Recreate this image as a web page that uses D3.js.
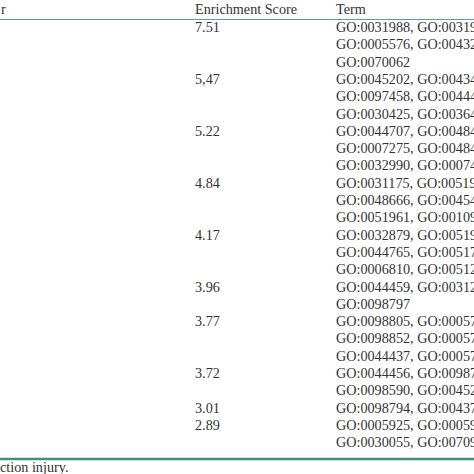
<!DOCTYPE html>
<html><head><meta charset="utf-8">
<script src="https://cdn.jsdelivr.net/npm/d3@7"></script>
<style>body{margin:0;background:#fff}</style></head>
<body><svg id="t" width="474" height="474"></svg>
<script>
// enrichment scores per cluster, and the GO terms (as visible in the crop)
var scores = ["7.51", "5,47", "5.22", "4.84", "4.17", "3.96", "3.77", "3.72", "3.01", "2.89"]
var terms = [
  ["GO:0031988, GO:00319", "GO:0005576, GO:00432", "GO:0070062"],
  ["GO:0045202, GO:00434", "GO:0097458, GO:00444", "GO:0030425, GO:00364"],
  ["GO:0044707, GO:00484", "GO:0007275, GO:00484", "GO:0032990, GO:00074"],
  ["GO:0031175, GO:00519", "GO:0048666, GO:00454", "GO:0051961, GO:00109"],
  ["GO:0032879, GO:00519", "GO:0044765, GO:00517", "GO:0006810, GO:00512"],
  ["GO:0044459, GO:00312", "GO:0098797"],
  ["GO:0098805, GO:00057", "GO:0098852, GO:00057", "GO:0044437, GO:00057"],
  ["GO:0044456, GO:00987", "GO:0098590, GO:00452"],
  ["GO:0098794, GO:00437"],
  ["GO:0005925, GO:00059", "GO:0030055, GO:00709"]
]
var headers = ["r", "Enrichment Score", "Term"]
var footnote = "ction injury."

var svg = d3.select("#t")
var font = "'Liberation Serif', serif"
var fs = 14.2
var lineH = 17.3, top0 = 32
var colX = [1, 195, 336]

svg.selectAll("text.h").data(headers).enter().append("text")
  .attr("x", function(d, i){ return colX[i] }).attr("y", 14)
  .attr("font-family", font).attr("font-size", fs).attr("fill", "#333")
  .text(function(d){ return d })

svg.append("line").attr("x1", 0).attr("x2", 474).attr("y1", 19.5).attr("y2", 19.5)
  .attr("stroke", "#5f9e94").attr("stroke-width", 1)

var line = 0
for (var r = 0; r < scores.length; r++) {
  svg.append("text").attr("x", colX[1]).attr("y", top0 + line * lineH)
    .attr("font-family", font).attr("font-size", fs).attr("fill", "#333").text(scores[r])
  for (var k = 0; k < terms[r].length; k++) {
    svg.append("text").attr("x", colX[2]).attr("y", top0 + (line + k) * lineH)
      .attr("font-family", font).attr("font-size", fs).attr("fill", "#333").text(terms[r][k])
  }
  line += terms[r].length
}

svg.append("line").attr("x1", 0).attr("x2", 474).attr("y1", 459).attr("y2", 459)
  .attr("stroke", "#3f8f80").attr("stroke-width", 2.5)
svg.append("text").attr("x", 0).attr("y", 474 - 2)
  .attr("font-family", font).attr("font-size", fs).attr("fill", "#333").text(footnote)
</script></body></html>
